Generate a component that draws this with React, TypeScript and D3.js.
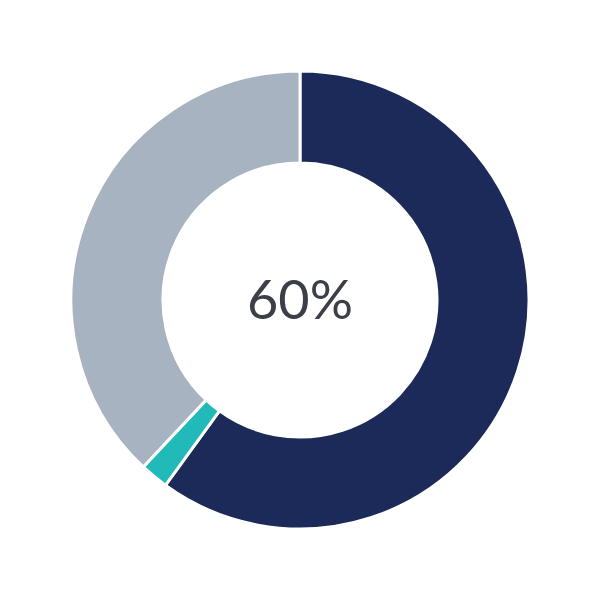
import React, { useEffect, useRef } from 'react'
import * as d3 from 'd3'

const labels = ['Navy', 'Teal', 'Grey']
const values = [60, 2, 38]
const colors = ['#1b2a59', '#22b9b9', '#a8b3c1']
const centerLabel = '60%'

const App = () => {
  const svg = useRef<SVGSVGElement>(null)

  useEffect(() => {
    const width = 600
    const height = 600
    const outer = 229
    const inner = 137

    const d3svg = d3.select(svg.current)
    d3svg.selectAll('*').remove()

    const g = d3svg.append('g').attr('transform', `translate(${width / 2}, ${height / 2})`)

    const pie = d3
      .pie<number>()
      .sort(null)
      .value(d => d)
    const arc = d3.arc<d3.PieArcDatum<number>>().innerRadius(inner).outerRadius(outer)

    g.selectAll('path')
      .data(pie(values))
      .enter()
      .append('path')
      .attr('d', arc)
      .attr('fill', (d, i) => colors[i])
      .attr('stroke', '#ffffff')
      .attr('stroke-width', 3)
      .append('title')
      .text((d, i) => labels[i])

    // big label in the middle
    g.append('text')
      .attr('text-anchor', 'middle')
      .attr('dy', '0.35em')
      .attr('font-family', 'Lato, sans-serif')
      .attr('font-weight', 400)
      .attr('font-size', 54)
      .attr('fill', '#3a3f48')
      .text(centerLabel)
  }, [])

  return (
    <svg
      ref={svg}
      width={600}
      height={600}
      style={{ position: 'absolute', top: 0, left: 0, background: '#ffffff' }}
    ></svg>
  )
}

export default App
